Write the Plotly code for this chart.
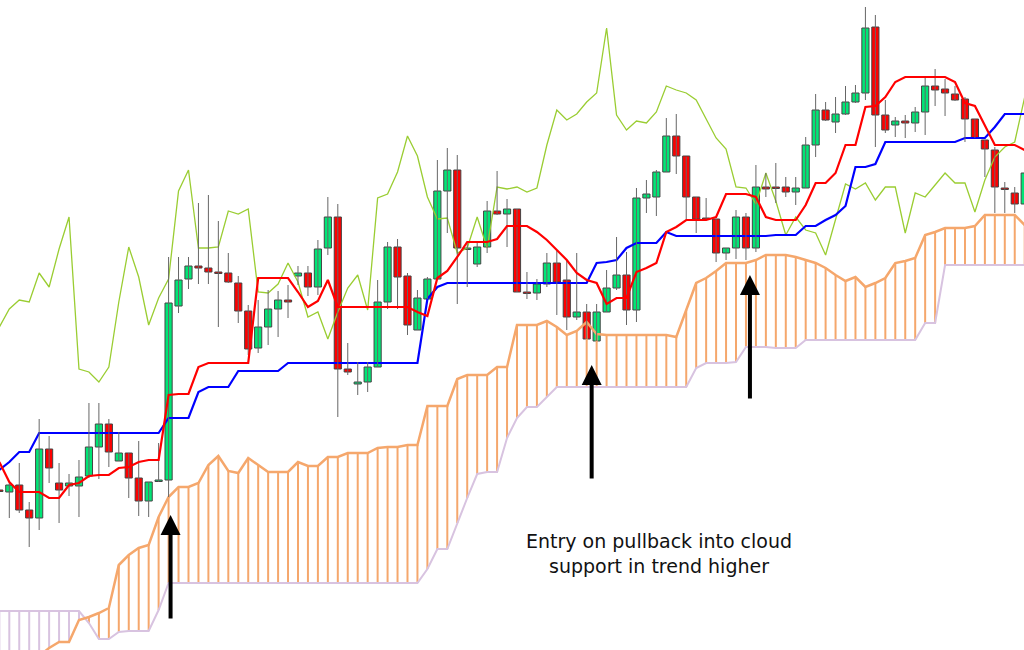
import plotly.graph_objects as go

# Candles (values in chart units; axis is inverted so smaller = higher). First entry is the partly hidden candle at the left edge.
opens  = [490,492,485,510,518,449,483,486,486,476,447,424,461,453,478,501,481,480,306,279,266,268,272,273,283,311,
          348,327,309,300,276,273,287,248,217,369,384,382,367,302,247,276,330,299,279,191,170,249,264,247,211,214,
          209,292,293,284,263,280,317,312,341,312,288,275,310,198,197,172,136,156,197,218,219,253,248,217,248,187,
          187,187,192,188,145,110,122,114,102,93,27,115,125,121,123,112,86,89,94,99,119,140,150,188,193,204]
closes = [491,485,510,518,449,468,490,483,477,447,424,452,453,478,501,482,480,303,280,266,268,272,273,282,311,349,
          327,309,300,302,273,287,249,217,369,372,382,367,302,247,277,325,298,279,191,170,248,248,247,211,214,209,
          292,293,284,263,282,317,312,339,312,288,275,310,198,194,172,136,156,197,219,218,253,248,217,248,187,189,
          187,192,188,145,110,120,114,102,93,28,115,130,121,123,112,86,90,93,100,119,138,149,187,188,204,173]
highs  = [489,483,463,502,419,436,463,474,460,403,403,419,432,453,441,482,443,257,257,257,203,195,221,253,276,305,
          300,290,291,285,266,266,240,197,204,343,362,362,280,242,239,273,290,277,160,148,155,243,242,201,171,199,
          209,272,279,253,251,261,253,304,304,270,237,252,188,180,170,118,114,157,197,198,219,248,210,213,165,173,
          163,177,177,137,94,102,97,86,85,7,15,100,117,115,107,78,69,79,86,97,119,140,147,182,187,173]
lows   = [492,518,513,547,530,483,523,496,517,478,479,467,461,498,516,517,482,497,313,289,284,284,327,283,323,355,
          353,345,337,318,285,296,295,255,417,375,395,392,367,309,309,335,330,299,280,233,304,287,267,253,215,247,
          292,299,300,287,315,330,320,339,341,312,290,325,322,213,216,172,174,219,233,220,262,260,259,260,252,197,
          203,197,205,188,157,121,133,115,103,100,147,133,137,138,132,135,106,116,101,142,138,177,213,213,213,204]

tenkan = [462,482,492,492,492,498,498,485,483,476,475,475,468,467,462,460,460,395,394,394,367,363,363,363,363,363,
          278,278,278,278,292,307,301,280,307,307,307,307,307,307,307,307,312,316,278,271,257,242,242,242,239,226,
          226,226,232,240,250,260,273,280,283,304,298,298,272,268,263,232,227,220,220,220,217,194,194,194,197,217,
          220,220,220,205,183,183,173,145,145,107,106,97,82,77,77,77,77,77,82,103,106,125,145,145,145,150]
kijun  = [470,462,452,452,433,433,433,433,433,433,433,433,433,433,433,433,433,418,418,418,392,387,387,387,371,371,
          371,371,371,363,363,363,363,363,363,363,363,363,363,363,363,363,363,299,287,283,283,283,283,283,283,283,
          283,283,283,283,283,283,283,283,263,262,260,248,243,243,243,232,236,236,236,236,236,236,236,236,236,236,
          235,235,235,226,226,220,215,206,167,167,164,142,142,142,142,142,142,142,142,138,138,138,127,114,114,114]
chikou_tail = [201,235,217,230,233,255,220,184,189,183,200,187,187,233,193,197,185,173,183,183,212,180,157,147,142,97]
span_a = [688,680,672,665,656,648,642,642,620,617,613,608,565,555,548,545,517,497,487,487,483,465,456,471,473,458,
          465,472,472,472,462,466,466,457,457,453,453,453,448,447,447,445,445,406,406,406,379,375,375,375,367,367,
          325,325,325,321,327,335,331,322,334,335,335,335,335,335,335,335,337,310,283,278,271,263,263,263,260,255,
          255,255,257,260,263,268,275,281,277,287,283,278,263,261,258,235,232,228,228,228,226,215,215,215,215,225]
span_b = [611,611,611,611,611,611,611,611,611,623,639,639,632,631,631,631,610,583,583,583,583,583,583,583,583,583,
          583,583,583,583,583,583,583,583,583,583,583,583,583,583,583,583,583,569,549,549,523,498,474,472,472,438,
          418,407,407,397,387,387,387,387,387,387,387,387,387,387,387,387,387,387,368,363,363,363,362,347,347,347,
          348,348,348,340,340,340,340,340,340,340,340,340,340,340,340,323,323,265,265,265,265,265,265,265,265,265]

chikou = closes[26:] + chikou_tail
idx = list(range(-1, len(closes) - 1))

fig = go.Figure()

# cloud hatching
hx_up, hy_up, hx_dn, hy_dn = [], [], [], []
for i, a, b in zip(idx, span_a, span_b):
    if a <= b:
        hx_up += [i, i, None]; hy_up += [a, b, None]
    else:
        hx_dn += [i, i, None]; hy_dn += [a, b, None]
fig.add_trace(go.Scatter(x=hx_up, y=hy_up, mode="lines", line=dict(color="#F5A76C", width=2), hoverinfo="skip"))
fig.add_trace(go.Scatter(x=hx_dn, y=hy_dn, mode="lines", line=dict(color="#D8C3E0", width=2), hoverinfo="skip"))
fig.add_trace(go.Scatter(x=idx, y=span_b, mode="lines", line=dict(color="#D8C3E0", width=2)))
fig.add_trace(go.Scatter(x=idx, y=span_a, mode="lines", line=dict(color="#F5A76C", width=2.5)))

fig.add_trace(go.Scatter(x=idx[:len(chikou)], y=chikou, mode="lines", line=dict(color="#9ACD32", width=1.3)))
fig.add_trace(go.Scatter(x=idx, y=kijun, mode="lines", line=dict(color="#0000FF", width=2.2)))

# wicks
wx, wy = [], []
for i, h, l in zip(idx, highs, lows):
    wx += [i, i, None]; wy += [h, l, None]
fig.add_trace(go.Scatter(x=wx, y=wy, mode="lines", line=dict(color="#666666", width=1), hoverinfo="skip"))

# bodies (smaller value = higher price on the inverted axis)
body_h = [max(abs(c - o), 1.5) for o, c in zip(opens, closes)]
body_base = [min(o, c) for o, c in zip(opens, closes)]
body_col = ["#00E676" if c < o else "#FF0000" for o, c in zip(opens, closes)]
fig.add_trace(go.Bar(x=idx, y=body_h, base=body_base, width=0.72,
                     marker=dict(color=body_col, line=dict(color="#444444", width=1))))

fig.add_trace(go.Scatter(x=idx, y=tenkan, mode="lines", line=dict(color="#FF0000", width=2.2)))

arrows = [(16.2, 620, 515), (58.5, 480, 365), (74.4, 400, 275)]
for ax_, tail, head in arrows:
    fig.add_annotation(x=ax_, y=head, ax=ax_, ay=tail, xref="x", yref="y", axref="x", ayref="y",
                       showarrow=True, arrowhead=2, arrowsize=1, arrowwidth=4, arrowcolor="black", text="")

fig.add_annotation(x=65.3, y=553, xref="x", yref="y", showarrow=False,
                   text="Entry on pullback into cloud<br>support in trend higher",
                   font=dict(family="DejaVu Sans", size=19, color="#111"), align="center")

fig.update_layout(width=1024, height=650, margin=dict(l=0, r=0, t=0, b=0), barmode="overlay",
                  plot_bgcolor="white", paper_bgcolor="white", showlegend=False)
fig.update_xaxes(range=[-0.934, 101.93], visible=False)
fig.update_yaxes(range=[650, 0], visible=False)
fig.write_html("out.html", config={"displayModeBar": False},
               post_script="document.body.style.margin='0px';")
